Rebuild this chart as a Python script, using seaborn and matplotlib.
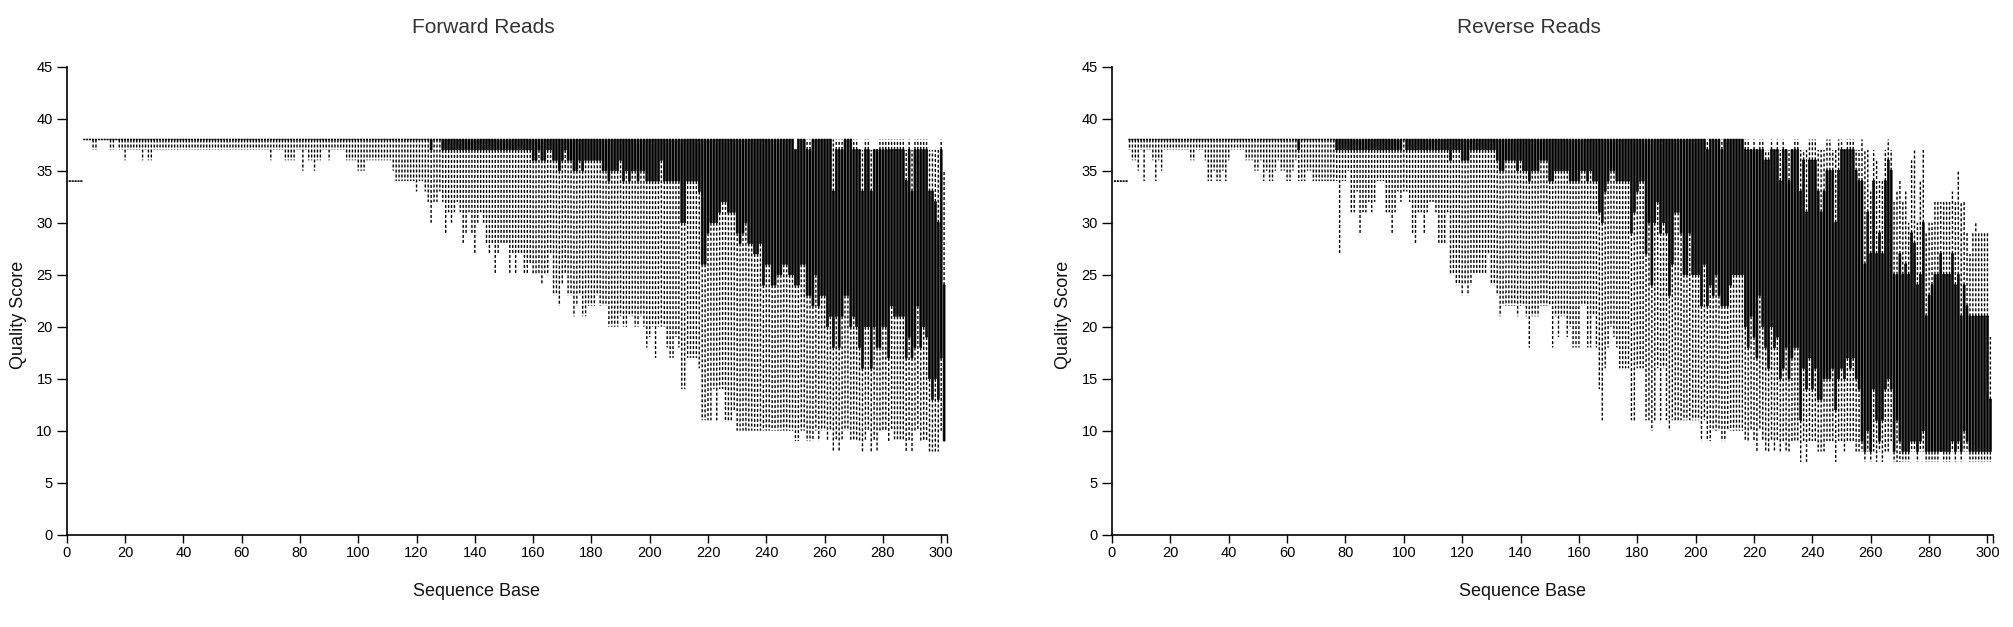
import numpy as np
import pandas as pd
import matplotlib
matplotlib.use("Agg")
import matplotlib.pyplot as plt
import seaborn as sns

# ----------------------------------------------------------
# DATOS (base 1 a 301)
# ----------------------------------------------------------

fwd_low = ([34]*5 + [38]*3 + [37]*2 + [38]*4 + [37]*2 + [38, 37, 37, 36] + [37]*5 + [36, 37, 36, 36]
    + [37]*40 + [36] + [37]*4 + [36]*4 + [37, 37, 35, 37, 36, 36, 35, 36, 36, 37, 37, 36] + [37]*5
    + [36]*4 + [35]*3 + [36]*9 + [35] + [34]*7 + [33, 34, 34, 33, 32, 30, 32, 32, 33, 32, 29, 31, 30, 31, 32, 31,
       28, 29, 31, 29, 27, 30, 31, 30, 28, 27, 28, 25, 27, 28, 28, 28, 25, 27, 25, 27, 27, 25, 25, 26,
       25, 25, 25, 24, 25, 25, 27, 23, 23, 22, 24, 25, 23, 23, 21, 22, 23, 21, 21, 22, 22, 22, 23,
       22, 22, 22, 20, 20, 20, 20, 21, 20, 20, 21, 21, 20, 20, 21, 20, 18, 19, 20, 17, 20, 20, 20,
       18, 17, 17, 19, 18, 14, 14, 17, 17, 17, 17, 16, 11, 11, 11, 11, 14, 11, 14, 14, 11, 11, 11, 12, 10, 10]
    + [10]*18 + [9, 9, 10, 10, 9, 9, 9, 10, 9, 10, 10, 9, 10, 8, 9, 8, 9, 10, 10, 9, 9, 9, 9, 8, 9, 10, 8, 9, 8,
       10, 10, 10, 9, 10, 9, 9, 9, 9, 8, 9, 8, 10, 10, 9, 9, 9, 8, 8, 8, 8, 10, 9])

fwd_q1 = ([34]*5 + [38]*119 + [37] + [38]*3 + [37]*31 + [36, 36, 37, 36, 36, 37, 37, 36, 36, 35, 36, 37, 36, 36,
       35, 35, 36, 35] + [36]*6 + [35, 35, 34, 35, 35, 35, 36, 34, 35, 34, 35, 35, 34, 35, 35] + [34]*5 + [36]
    + [34]*6 + [30, 30, 34, 34, 34, 34, 33, 26, 26, 29, 30, 30, 30, 31, 32, 32, 31, 31, 31, 29, 28, 29, 30, 28, 28,
       27, 27, 28, 24, 26, 26, 24, 24, 25, 25, 26, 26, 25, 25, 24, 24, 26, 26, 23, 23, 22, 25, 22, 23, 23,
       20, 21, 18, 21, 18, 21, 23, 23, 20, 21, 20, 18, 16, 20, 20, 16, 20, 18, 18, 20, 20, 17, 22, 21,
       21, 21, 21, 17, 19, 17, 18, 22, 18, 20, 19, 15, 13, 15, 13, 17, 9])

fwd_q3 = ([34]*5 + [38]*244 + [37] + [38]*3 + [37, 37] + [38]*7 + [33, 37, 37, 37, 38, 38, 38, 37, 37, 37, 33, 37, 37, 33]
    + [37]*11 + [34, 37, 33] + [37]*5 + [33, 33, 32, 30, 37, 24])

fwd_high = ([34]*5 + [38]*244 + [37] + [38]*19 + [38, 38, 37, 37, 38, 38, 37, 37, 37] + [38]*9
    + [37, 38, 37] + [38]*5 + [37]*4 + [38, 35])

rev_low = ([34]*5 + [37, 36, 36, 35, 37, 34, 37, 37, 36, 34, 36, 35] + [37]*9 + [36, 36, 37, 37, 37, 36, 34, 34, 35, 34, 34,
       35, 34, 36] + [37]*5 + [36, 36, 36, 35, 35, 36, 34, 35, 34, 34, 35, 36, 35, 35, 34, 34, 35, 36, 34, 34, 34, 35, 35]
    + [34]*9 + [27, 34, 34, 35, 31, 31, 33, 29, 31, 31, 32, 31, 32, 34, 34, 34, 31, 31, 29, 31, 33, 32, 33, 33, 32,
       29, 28, 31, 31, 29, 31, 32, 32, 31, 28, 28, 28, 31, 25, 25, 24, 24, 23, 24, 23, 24] + [25]*5
    + [27, 24, 24, 23, 21, 22, 22, 22, 22, 22, 21, 22, 22, 21, 18, 21, 21, 21, 22, 22, 22, 22, 18, 21, 19, 21, 21, 19, 20,
       18, 18, 18, 22, 22, 18, 18, 21, 18, 14, 11, 16, 18, 20, 19, 18, 16, 16, 16, 16, 11, 11, 16, 16, 16, 11, 11,
       10, 11, 16, 11, 16, 11, 10] + [11]*10 + [9, 11, 9, 9, 10, 10, 10, 9, 9] + [10]*6
    + [9, 9, 10, 9, 8, 10, 9, 8, 8, 9, 8, 9, 8, 9, 8, 8, 9, 9, 9, 7, 9, 7, 9, 9, 9, 8, 8, 8, 9, 9, 9, 7, 9, 9, 8, 9, 9, 9,
       8, 8, 8, 7, 8, 7, 8, 7, 8, 7, 8, 8, 9] + [7]*6 + [8, 8, 7, 8, 8] + [7]*5 + [8, 7, 7, 7, 8, 7, 8, 7, 8, 8] + [7]*8)

rev_q1 = ([34]*5 + [38]*58 + [37] + [38]*12 + [37]*23 + [38] + [37]*15 + [36, 37, 37, 37, 36, 36, 36] + [37]*9
    + [36, 35, 35, 36, 36, 36, 36, 35, 36, 35, 35, 34, 35, 35, 35, 36, 36, 36, 34, 34] + [35]*5
    + [34, 34, 34, 34, 35, 35, 34, 35, 34, 34, 31, 30, 33, 34, 35, 35] + [34]*5
    + [29, 31, 33, 34, 34, 27, 30, 24, 30, 32, 29, 30, 29, 23, 26, 31, 31, 29, 25, 25, 29, 25, 25, 25, 22, 26, 22, 24,
       23, 25, 23, 22, 22, 22, 24, 25, 25, 25, 25, 20, 18, 21, 19, 17, 23, 20, 18, 16, 20, 18, 19, 15, 16, 18, 15,
       17, 18, 18, 11, 16, 14, 17, 14, 16, 13, 13, 15, 15, 15, 16, 12, 15, 16, 15, 17, 16, 17, 15, 14, 9, 8, 10, 8,
       14, 11, 9, 11, 14, 15, 14, 8, 11, 9, 8, 8, 8, 9, 9, 8, 9, 10] + [8]*9 + [9, 8, 9, 8, 10, 9] + [8]*8)

rev_q3 = ([34]*5 + [38]*198 + [37] + [38]*4 + [37] + [38]*7 + [37]*7 + [36, 36, 37, 37, 37, 34, 37, 37, 34, 37, 37, 37,
       33, 36, 31, 36, 36, 36, 33, 31, 33, 35, 35, 35, 30, 35] + [37]*5 + [35, 34, 34, 26, 31, 27, 34, 27, 29, 27, 34, 36, 35,
       25, 25, 27, 25, 26, 25, 29, 28, 24, 25, 30, 21, 23, 24, 25, 25, 27, 25, 25, 25, 27, 24, 25, 21, 24, 22]
    + [21]*7 + [13])

rev_high = ([34]*5 + [38]*198 + [38]*13 + [38, 38, 37, 38, 37, 38, 38, 37, 37, 38, 37, 38, 37, 38, 37, 37, 37, 38, 38,
       37, 37, 37, 38, 38, 38, 37, 37, 37, 38, 38, 37, 37, 38, 38, 37, 38, 38, 38, 37, 37, 38, 37, 37, 33, 37, 36, 34, 34, 37, 38, 37,
       32, 33, 34, 32, 33, 30, 36, 37, 30, 34, 37, 29, 30, 30] + [32]*6 + [33, 32, 35, 32, 32, 29, 27, 29, 30]
    + [29]*4 + [19])

bases = np.arange(1, 302)

titulos = ["Forward Reads", "Reverse Reads"]
xticks = list(range(0, 301, 20))
yticks = list(range(0, 46, 5))

# ----------------------------------------------------------
# ESTILO
# ----------------------------------------------------------

sns.set_theme(style="ticks")
plt.rcParams["font.family"] = ["Liberation Sans", "DejaVu Sans"]
plt.rcParams["lines.scale_dashes"] = False

W, H = 2013, 627
fig = plt.figure(figsize=(W / 100, H / 100), dpi=100)

paneles = [
    (66.8, 947.0, 18, fwd_low, fwd_q1, fwd_q3, fwd_high),
    (1112.0, 1993.3, 1063, rev_low, rev_q1, rev_q3, rev_high),
]

for (x0, x1, x_label, low, q1, q3, high), titulo in zip(paneles, titulos):

    ax = fig.add_axes([x0 / W, (H - 534.7) / H, (x1 - x0) / W, 468.0 / H])

    # cinco valores por base: el boxplot recupera exactamente min, q1, q3 y max
    filas = pd.DataFrame({
        "base": np.repeat(bases, 5),
        "score": np.column_stack([low, q1, q3, q3, high]).ravel(),
    })

    sns.boxplot(
        data=filas,
        x="base",
        y="score",
        native_scale=True,
        whis=(0, 100),
        width=0.68,
        color="black",
        linecolor="black",
        linewidth=0.45,
        saturation=1,
        showcaps=False,
        showfliers=False,
        boxprops={"snap": False, "joinstyle": "bevel"},
        medianprops={"snap": False, "linewidth": 1.1, "solid_capstyle": "butt"},
        whiskerprops={"linestyle": (0, (2.16, 1.44)), "linewidth": 1.0, "snap": False},
        ax=ax,
    )

    ax.set_xlim(0, 302)
    ax.set_ylim(0, 45)
    ax.set_xticks(xticks)
    ax.set_xticklabels([str(t) for t in xticks])
    ax.set_xticks([302], minor=True)
    ax.set_yticks(yticks)
    ax.set_yticklabels([str(t) for t in yticks])

    ax.tick_params(axis="x", which="both", length=5.4, width=1.0, color="black",
                   labelsize=10.5, labelcolor="black", pad=2.4)
    ax.tick_params(axis="y", length=7.2, width=1.0, color="black",
                   labelsize=10.5, labelcolor="black", pad=3)

    sns.despine(ax=ax)
    for lado in ["left", "bottom"]:
        ax.spines[lado].set_linewidth(1.2)
        ax.spines[lado].set_color("black")

    ax.set_title(titulo, fontsize=15, color="#333333", x=0.4735, y=1.0, pad=24)
    ax.set_xlabel("Sequence Base", fontsize=13, color="#111111")
    ax.xaxis.set_label_coords(0.466, -0.104)
    ax.set_ylabel("Quality Score", fontsize=13, color="#111111")
    ax.yaxis.set_label_coords((x_label + 9 - x0) / (x1 - x0), 0.469)

plt.savefig("out.png", dpi=100)
plt.close()
